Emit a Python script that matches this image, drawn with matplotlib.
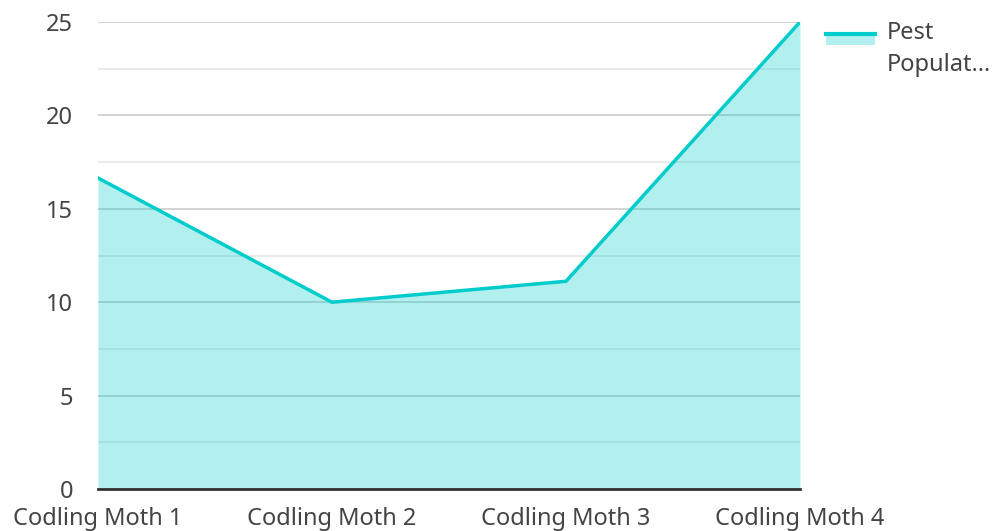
import matplotlib
matplotlib.use("Agg")
import matplotlib.pyplot as plt
from matplotlib.patches import Rectangle
from matplotlib.lines import Line2D

categories = ["Codling Moth 1", "Codling Moth 2", "Codling Moth 3", "Codling Moth 4"]
values = [16.65, 10.0, 11.12, 25.0]
series_name = "Pest\nPopulat…"
yticks = [0, 5, 10, 15, 20, 25]

plt.rcParams['font.family'] = ['Noto Sans', 'DejaVu Sans']
line_color = "#00CCCC"
text_color = "#444444"
fs = 17

fig = plt.figure(figsize=(9.96, 5.31), dpi=100)
ax = fig.add_axes([98/996, 1-489/531, (800-98)/996, (489-22)/531])

x = list(range(len(categories)))
ax.fill_between(x, values, 0, color=line_color, alpha=0.3, linewidth=0, zorder=3)
ax.plot(x, values, color=line_color, linewidth=2.5, zorder=4, solid_joinstyle='miter')

ax.set_xlim(0, len(categories) - 1)
ax.set_ylim(0, 25)
ax.set_yticks(yticks)
ax.set_yticklabels([str(v) for v in yticks])
ax.set_yticks([2.5, 7.5, 12.5, 17.5, 22.5], minor=True)
ax.set_xticks(x)
ax.set_xticklabels(categories)
ax.grid(axis='y', which='major', color="#cccccc", linewidth=1.2, zorder=1)
ax.grid(axis='y', which='minor', color="#e6e6e6", linewidth=1.2, zorder=1)
ax.grid(axis='x', visible=False)
ax.set_axisbelow(True)
for s in ['top', 'right', 'left']:
    ax.spines[s].set_visible(False)
ax.spines['bottom'].set_color("#333333")
ax.spines['bottom'].set_linewidth(2)
ax.spines['bottom'].set_zorder(5)
ax.tick_params(axis='both', which='both', length=0, labelsize=fs, colors=text_color)
ax.tick_params(axis='y', pad=18)
ax.tick_params(axis='x', pad=13)

# legend
W, H = 996, 531
fig.add_artist(Rectangle((826/W, 1-45/H), 49/W, 10/H, transform=fig.transFigure,
                         facecolor=line_color, alpha=0.3, linewidth=0))
fig.add_artist(Line2D([826/W, 875/W], [1-34/H, 1-34/H], transform=fig.transFigure,
                      color=line_color, linewidth=3))
fig.text(887/W, 1-33/H, "Pest", fontsize=fs, color=text_color, va='center', ha='left')
fig.text(887/W, 1-65/H, "Populat…", fontsize=fs, color=text_color, va='center', ha='left')

fig.savefig("out.png", dpi=100)
